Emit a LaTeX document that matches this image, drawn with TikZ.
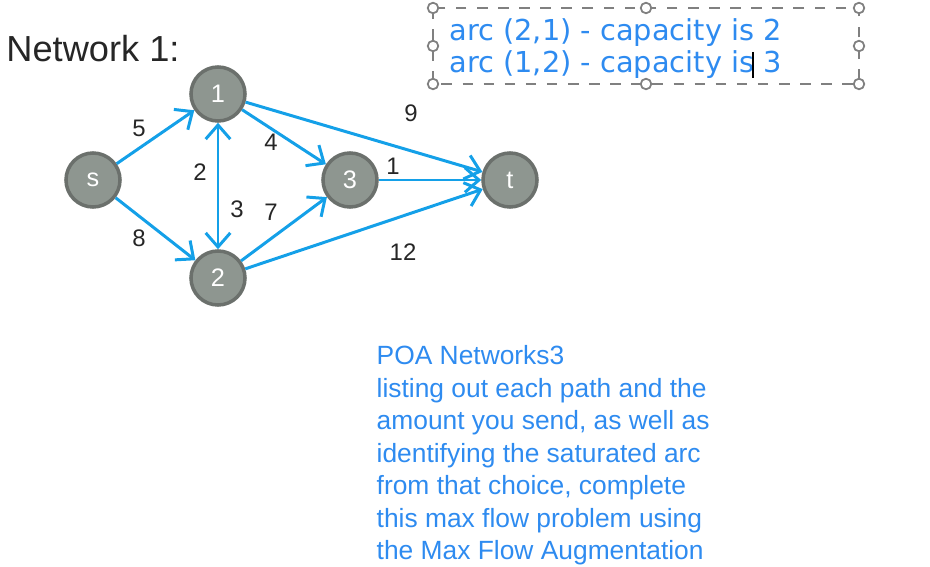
\documentclass[tikz,border=0pt]{standalone}
\usepackage{fontspec}
\setmainfont{Liberation Sans}
\newfontfamily\verd{DejaVu Sans}
\usetikzlibrary{arrows.meta}
\definecolor{edgeblue}{HTML}{14A0E8}
\definecolor{txtblue}{HTML}{2E8BF0}
\definecolor{nodegray}{HTML}{8E9690}
\definecolor{nodeedge}{HTML}{6B706C}
\begin{document}
\begin{tikzpicture}[x=0.01cm,y=-0.01cm,
  vert/.style={circle,fill=nodegray,draw=nodeedge,line width=1pt,minimum size=0.54cm,inner sep=0pt,text=white,font=\fontsize{7.2}{8}\selectfont},
  arc/.style={draw=edgeblue,line width=0.85pt,-{Straight Barb[length=4pt,width=7pt,line width=0.85pt]}},
  lab/.style={font=\fontsize{6.8}{8}\selectfont,text=black!85},
  handle/.style={circle,draw=gray,fill=white,line width=0.5pt,inner sep=0pt,minimum size=3pt}]
\useasboundingbox (0,0) rectangle (930,567);
\node[anchor=base west,font=\fontsize{10.3}{12}\selectfont,text=black!85] (title) at (-6,62) {Network 1:};
\node[vert] (s) at (93,180) {s};
\node[vert] (n1) at (218,94) {1};
\node[vert] (n2) at (218,278) {2};
\node[vert] (n3) at (350,180) {3};
\node[vert] (t) at (510,180) {t};
\draw[arc] (s) -- (n1);
\draw[arc] (s) -- (n2);
\draw[arc,{Straight Barb[length=4pt,width=7pt,line width=0.85pt]}-{Straight Barb[length=4pt,width=7pt,line width=0.85pt]}] (n1) -- (n2);
\draw[arc] (n1) -- (n3);
\draw[arc] (n1) -- (t);
\draw[arc] (n2) -- (n3);
\draw[arc] (n2) -- (t);
\draw[arc] (n3) -- (t);
\node[lab] (l5) at (139,128) {5};
\node[lab] (l8) at (139,238) {8};
\node[lab] (l2) at (200,172) {2};
\node[lab] (l3) at (237,209) {3};
\node[lab] (l4) at (271,142) {4};
\node[lab] (l7) at (271,212) {7};
\node[lab] (l9) at (411,113) {9};
\node[lab] (l1) at (393,166) {1};
\node[lab] (l12) at (403,252) {12};
% text box
\draw[gray,dashed,line width=0.5pt] (433,8) rectangle (859,84);
\foreach \p [count=\i] in {(433,8),(646,8),(859,8),(433,46),(859,46),(433,84),(646,84),(859,84)}
  \node[handle] (h\i) at \p {};
\node[anchor=base west,font=\verd\fontsize{8.2}{9}\selectfont,text=txtblue] (b1) at (437,41) {arc (2,1) - capacity is 2};
\node[anchor=base west,font=\verd\fontsize{8.2}{9}\selectfont,text=txtblue] (b2) at (437,73) {arc (1,2) - capacity is 3};
\draw[black,line width=0.4pt] (753,52) -- (753,78);
\node[anchor=north west,align=left,inner sep=0pt,font=\fontsize{7.5}{9.25}\selectfont,text=txtblue] (poa) at (376,345)
{POA Networks3\\listing out each path and the\\amount you send, as well as\\identifying the saturated arc\\from that choice, complete\\this max flow problem using\\the Max Flow Augmentation};
\end{tikzpicture}
\end{document}
